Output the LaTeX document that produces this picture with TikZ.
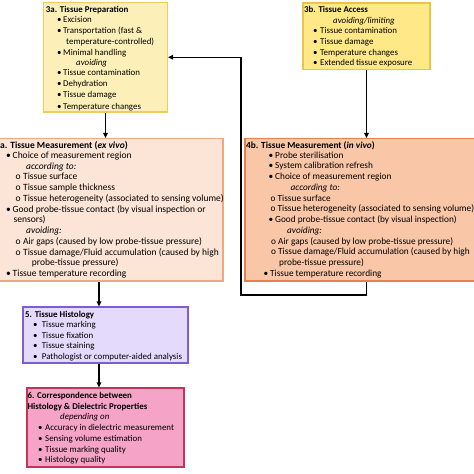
\documentclass[tikz,border=0pt]{standalone}
\usepackage{fontspec}
\setmainfont{Carlito}
\usetikzlibrary{arrows.meta}
\definecolor{f3a}{HTML}{FCF0B8}
\definecolor{d3a}{HTML}{F0CC60}
\definecolor{f3b}{HTML}{FFE888}
\definecolor{d3b}{HTML}{E8C448}
\definecolor{f4a}{HTML}{FCE4D6}
\definecolor{d4a}{HTML}{EFA882}
\definecolor{f4b}{HTML}{F9C6A8}
\definecolor{d4b}{HTML}{E8804E}
\definecolor{f5}{HTML}{E4DAFC}
\definecolor{d5}{HTML}{7D5CD6}
\definecolor{f6}{HTML}{F5A3C6}
\definecolor{d6}{HTML}{C0365A}
\newcommand\tl[4]{\node[txt] (#1) at (#2,#3+3) {#4};}
\newcommand\bu[5]{\node[txt] (#1) at (#2,#4+3) {\makebox[\dimexpr#3pt-#2pt\relax][l]{\textbullet}#5};}
\newcommand\ob[5]{\node[txt] (#1) at (#2,#4+3) {\makebox[\dimexpr#3pt-#2pt\relax][l]{o}#5};}
\begin{document}
\begin{tikzpicture}[x=1pt,y=-1pt,
  box/.style={draw, line width=1.1pt, rectangle, inner sep=0pt},
  txt/.style={anchor=base west, inner sep=0pt, font=\fontsize{8.9}{10}\selectfont},
  conn/.style={line width=1.3pt, -{Triangle[length=5pt,width=4.5pt]}}]
\useasboundingbox (0,0) rectangle (474,474);
\clip (0,0) rectangle (474,474);
\fill[white] (0,0) rectangle (474,474);
% boxes
\node[box, fill=f3a, draw=d3a, minimum width=124pt, minimum height=109.5pt] (b3a) at (105.5,57.25) {};
\node[box, fill=f3b, draw=d3b, minimum width=127pt, minimum height=66.5pt] (b3b) at (366.5,36.25) {};
\node[box, fill=f4a, draw=d4a, minimum width=233pt, minimum height=142.5pt] (b4a) at (106.5,209.75) {};
\node[box, fill=f4b, draw=d4b, minimum width=235pt, minimum height=142.5pt] (b4b) at (362.5,209.75) {};
\node[box, fill=f5, draw=d5, minimum width=165pt, minimum height=56pt] (b5) at (105.5,335) {};
\node[box, fill=f6, draw=d6, minimum width=157pt, minimum height=79pt] (b6) at (105.5,427.5) {};
% 3a
\tl{t3a0}{45.7}{9.3}{\textbf{3a. Tissue Preparation}}
\bu{t3a1}{57}{63}{19.3}{Excision}
\bu{t3a2}{57}{63}{30.3}{Transportation (fast \&}
\tl{t3a3}{66}{41}{temperature-controlled)}
\bu{t3a4}{57}{63}{52}{Minimal handling}
\tl{t3a5}{76}{62}{\textit{avoiding}}
\bu{t3a6}{57}{63}{72.7}{Tissue contamination}
\bu{t3a7}{57}{63}{83.5}{Dehydration}
\bu{t3a8}{57}{63}{94.3}{Tissue damage}
\bu{t3a9}{57}{63}{106}{Temperature changes}
% 3b
\tl{t3b0}{304}{9.3}{\textbf{3b. Tissue Access}}
\tl{t3b1}{333}{20}{\textit{avoiding/limiting}}
\bu{t3b2}{313}{320}{30.3}{Tissue contamination}
\bu{t3b3}{313}{320}{41}{Tissue damage}
\bu{t3b4}{313}{320}{52}{Temperature changes}
\bu{t3b5}{313}{320}{62.7}{Extended tissue exposure}
% 4a
\begin{scope}[txt/.append style={font=\fontsize{9.5}{10}\selectfont}]
\tl{t4a0}{-4.8}{145}{\textbf{4a. Tissue Measurement (\textit{ex vivo})}}
\bu{t4a1}{6}{12.5}{155.5}{Choice of measurement region}
\tl{t4a2}{26}{166}{\textit{according to:}}
\ob{t4a3}{15.5}{23}{176.5}{Tissue surface}
\ob{t4a4}{15.5}{23}{187.5}{Tissue sample thickness}
\ob{t4a5}{15.5}{23}{198}{Tissue heterogeneity (associated to sensing volume)}
\bu{t4a6}{6}{12.5}{209}{Good probe-tissue contact (by visual inspection or}
\tl{t4a7}{13.5}{219.5}{sensors)}
\tl{t4a8}{26}{230.5}{\textit{avoiding:}}
\ob{t4a9}{15.5}{23}{241.5}{Air gaps (caused by low probe-tissue pressure)}
\ob{t4a10}{15.5}{23}{252}{Tissue damage/Fluid accumulation (caused by high}
\tl{t4a11}{31.7}{262}{probe-tissue pressure)}
\bu{t4a12}{6}{12.5}{273}{Tissue temperature recording}
\end{scope}
% 4b
\begin{scope}[txt/.append style={font=\fontsize{9.3}{10}\selectfont}]
\tl{t4b0}{246}{145}{\textbf{4b. Tissue Measurement (\textit{in vivo})}}
\bu{t4b1}{268.5}{275}{155}{Probe sterilisation}
\bu{t4b2}{268.5}{275}{165.5}{System calibration refresh}
\bu{t4b3}{268.5}{275}{176}{Choice of measurement region}
\tl{t4b4}{290.5}{187}{\textit{according to:}}
\ob{t4b5}{270.5}{277.5}{198}{Tissue surface}
\ob{t4b6}{270.5}{277.5}{208}{Tissue heterogeneity (associated to sensing volume)}
\bu{t4b7}{268.5}{275}{219}{Good probe-tissue contact (by visual inspection)}
\tl{t4b8}{287}{230}{\textit{avoiding:}}
\ob{t4b9}{271}{278}{241.5}{Air gaps (caused by low probe-tissue pressure)}
\ob{t4b10}{271}{278}{251.5}{Tissue damage/Fluid accumulation (caused by high}
\tl{t4b11}{279}{262}{probe-tissue pressure)}
\bu{t4b12}{263.5}{270}{273}{Tissue temperature recording}
\end{scope}
% 5
\tl{t50}{25}{314}{\textbf{5. Tissue Histology}}
\bu{t51}{33}{41.7}{324.3}{Tissue marking}
\bu{t52}{33}{41.7}{335}{Tissue fixation}
\bu{t53}{33}{41.7}{345.7}{Tissue staining}
\bu{t54}{33}{41.7}{356.7}{Pathologist or computer-aided analysis}
% 6
\tl{t60}{27.3}{395}{\textbf{6. Correspondence between}}
\tl{t61}{27.3}{406}{\textbf{Histology \& Dielectric Properties}}
\tl{t62}{60}{416}{\textit{depending on}}
\bu{t63}{38}{45}{427}{Accuracy in dielectric measurement}
\bu{t64}{38}{45}{438.3}{Sensing volume estimation}
\bu{t65}{38}{45}{449}{Tissue marking quality}
\bu{t66}{38}{45}{459.3}{Histology quality}
% connectors
\coordinate (xa) at (99,0);
\coordinate (cbot) at (241,295);
\draw[conn] (b3a.south) -- (b3a.south |- b4a.north);
\draw[conn] (b3b.south) -- (b3b.south |- b4b.north);
\draw[conn] (b4a.south -| xa) -- (b5.north -| xa);
\draw[conn] (b5.south -| xa) -- (b6.north -| xa);
\draw[conn] (b3b.south |- b4b.south) -- (b3b.south |- cbot) -- (cbot) -- (cbot |- b3a.east) -- (b3a.east);
\end{tikzpicture}
\end{document}
